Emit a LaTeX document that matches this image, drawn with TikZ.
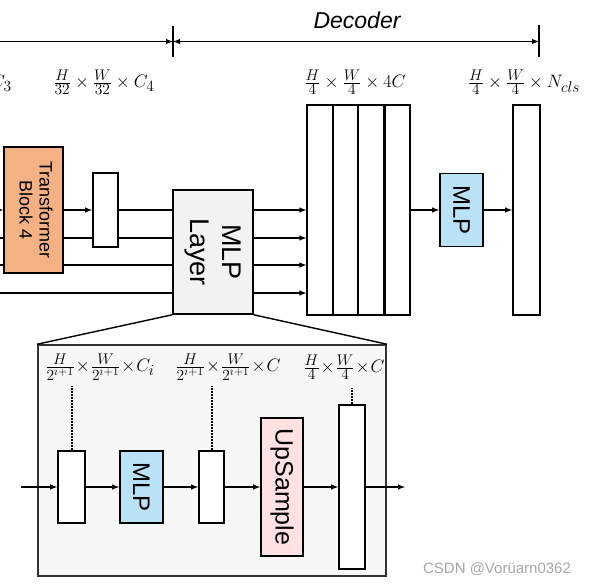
\RequirePackage{fix-cm}
\documentclass[tikz,border=0pt]{standalone}
\usepackage{amsmath}
\usepackage[no-math]{fontspec}
\setmainfont{Liberation Sans}
\usepackage{xcolor}
\usepackage{tikz}
\usetikzlibrary{positioning,shapes,arrows}

\DeclareMathSizes{18}{18}{15.5}{12}
\definecolor{blockorange}{RGB}{244,177,131}
\definecolor{mlpblue}{RGB}{186,226,247}
\definecolor{uppink}{RGB}{255,225,225}

\begin{document}
\begin{tikzpicture}[x=1pt, y=-1pt,
    box/.style={rectangle, draw=black, fill=white, line width=1.6pt, inner sep=0pt},
    arrow/.style={->, line width=1.4pt, >=latex},
    dimlabel/.style={inner sep=0pt, font=\fontsize{18}{20}\selectfont},
    small/.style={inner sep=0pt, font=\fontsize{15}{18}\selectfont}
]
\useasboundingbox (0,0) rectangle (591,586);

% Encoder / decoder span
\coordinate (encL) at (-10,41.5);
\coordinate (sepT) at (173,26);
\coordinate (sepB) at (173,57);
\coordinate (endT) at (539,25);
\coordinate (endB) at (539,57);
\draw[arrow] (encL) -- (sepT |- encL);
\draw[<->, line width=1.4pt, >=latex] (sepT |- encL) -- (endT |- encL);
\draw[line width=1.4pt] (sepT) -- (sepB);
\draw[line width=1.4pt] (endT) -- (endB);
\node[inner sep=0pt, font=\fontsize{23}{26}\selectfont\itshape] (decoder) at (357,20) {Decoder};

% Feature sizes
\node[dimlabel, anchor=east] (dim3) at (12,82) {$\frac{H}{16}\times\frac{W}{16}\times C_3$};
\node[dimlabel] (dim4) at (104,82) {$\frac{H}{32}\times\frac{W}{32}\times C_4$};
\node[dimlabel] (dimcat) at (355,82) {$\frac{H}{4}\times\frac{W}{4}\times 4C$};
\node[dimlabel] (dimout) at (524,82) {$\frac{H}{4}\times\frac{W}{4}\times N_{cls}$};

% Encoder end
\node[box, fill=blockorange, minimum width=59pt, minimum height=126pt, font=\fontsize{18}{20}\selectfont] (tb4) at (33.5,210)
    {\rotatebox{-90}{\begin{tabular}{@{}c@{}}Transformer\\Block 4\end{tabular}}};
\node[box, minimum width=25pt, minimum height=74pt] (feat4) at (105.5,210) {};
\node[box, fill=gray!10, minimum width=80pt, minimum height=124pt, font=\fontsize{27}{32}\selectfont] (mlplayer) at (213,252)
    {\rotatebox{-90}{\begin{tabular}{@{}c@{}}MLP\\Layer\end{tabular}}};

% Decoder features
\foreach \i/\x in {1/320,2/345.5,3/371,4/397.5}
    \node[box, minimum width=25.5pt, minimum height=210pt] (f\i) at (\x,210) {};
\node[box, fill=mlpblue, minimum width=43pt, minimum height=73pt, font=\fontsize{24}{28}\selectfont] (mlptop) at (461.5,210)
    {\rotatebox{-90}{MLP}};
\node[box, minimum width=27pt, minimum height=210pt] (out) at (526.5,210) {};

% Feature rows
\coordinate (r1) at (-10,210);
\coordinate (r2) at (-10,238);
\coordinate (r3) at (-10,265);
\coordinate (r4) at (-10,293);
\draw[arrow] (r1) -- (tb4);
\draw[arrow] (tb4) -- (feat4);
\draw[line width=1.4pt] (feat4.east) -- (feat4.east -| mlplayer.west);
\draw[line width=1.4pt] (r2) -- (r2 -| tb4.west);
\draw[line width=1.4pt] (r2 -| tb4.east) -- (r2 -| feat4.west);
\draw[line width=1.4pt] (r2 -| feat4.east) -- (r2 -| mlplayer.west);
\draw[line width=1.4pt] (r3) -- (r3 -| tb4.west);
\draw[line width=1.4pt] (r3 -| tb4.east) -- (r3 -| mlplayer.west);
\draw[line width=1.4pt] (r4) -- (r4 -| mlplayer.west);
\foreach \r in {r1,r2,r3,r4}
    \draw[arrow] (\r -| mlplayer.east) -- (\r -| f1.west);
\draw[arrow] (f4) -- (mlptop);
\draw[arrow] (mlptop) -- (out);

% MLP layer detail
\node[box, draw=black!80, fill=gray!6, minimum width=348pt, minimum height=231pt] (inset) at (212,460.5) {};
\draw[line width=1.4pt] (mlplayer.south west) -- (inset.north west);
\draw[line width=1.4pt] (mlplayer.south east) -- (inset.north east);

\node[dimlabel] (dimA) at (100,367) {$\frac{H}{2^{i+1}}\!\times\!\frac{W}{2^{i+1}}\!\times\! C_i$};
\node[dimlabel] (dimB) at (228,367) {$\frac{H}{2^{i+1}}\!\times\!\frac{W}{2^{i+1}}\!\times\! C$};
\node[dimlabel] (dimC) at (344,367) {$\frac{H}{4}\!\times\!\frac{W}{4}\!\times\! C$};

\node[box, minimum width=27pt, minimum height=72pt] (in1) at (71.5,487) {};
\node[box, fill=mlpblue, minimum width=43pt, minimum height=72pt, font=\fontsize{24}{28}\selectfont] (mlpin) at (141.5,487)
    {\rotatebox{-90}{MLP}};
\node[box, minimum width=25pt, minimum height=72pt] (in2) at (211.5,487) {};
\node[box, fill=uppink, minimum width=42pt, minimum height=138pt, font=\fontsize{25}{28}\selectfont] (up) at (282,487)
    {\rotatebox{-90}{UpSample}};
\node[box, minimum width=26pt, minimum height=164pt] (in3) at (352,487) {};

\coordinate (inL) at (21,487);
\coordinate (inR) at (405,487);
\draw[arrow] (inL) -- (in1);
\draw[arrow] (in1) -- (mlpin);
\draw[arrow] (mlpin) -- (in2);
\draw[arrow] (in2) -- (up);
\draw[arrow] (up) -- (in3);
\draw[arrow] (in3) -- (inR);

\draw[densely dotted, line width=2pt] (in1.north) -- (in1.north |- 0,386);
\draw[densely dotted, line width=2pt] (in2.north) -- (in2.north |- 0,386);
\draw[densely dotted, line width=2pt] (in3.north) -- (in3.north |- 0,388);

% Watermark
\node[small, text=gray!70] (mark) at (497,569) {CSDN @Vorüarn0362};

\end{tikzpicture}
\end{document}
